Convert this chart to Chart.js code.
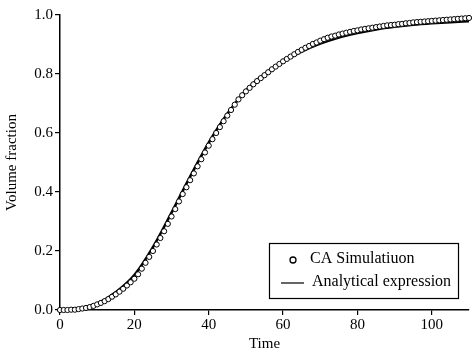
<!DOCTYPE html>
<html>
<head>
<meta charset="utf-8">
<script src="https://cdn.jsdelivr.net/npm/chart.js@4.4.1/dist/chart.umd.min.js"></script>
<style>
html,body{margin:0;padding:0;background:#fff;}
#wrap{width:474px;height:356px;}
</style>
</head>
<body>
<div id="wrap"><canvas id="c" width="474" height="356"></canvas></div>
<script>
// CA simulation points, one per time unit (t = 0..110)
const simTimes = [0,1,2,3,4,5,6,7,8,9,10,11,12,13,14,15,16,17,18,19,20,21,22,23,24,25,26,27,28,29,30,31,32,33,34,35,36,37,38,39,40,41,42,43,44,45,46,47,48,49,50,51,52,53,54,55,56,57,58,59,60,61,62,63,64,65,66,67,68,69,70,71,72,73,74,75,76,77,78,79,80,81,82,83,84,85,86,87,88,89,90,91,92,93,94,95,96,97,98,99,100,101,102,103,104,105,106,107,108,109,110];
const simValues = [0.000,0.000,0.000,0.001,0.001,0.003,0.005,0.007,0.010,0.014,0.019,0.024,0.030,0.037,0.045,0.053,0.062,0.072,0.083,0.094,0.106,0.121,0.140,0.160,0.180,0.200,0.222,0.244,0.267,0.292,0.317,0.342,0.368,0.393,0.416,0.440,0.463,0.487,0.511,0.534,0.557,0.579,0.600,0.620,0.640,0.659,0.678,0.696,0.714,0.728,0.741,0.753,0.765,0.776,0.786,0.796,0.806,0.816,0.825,0.834,0.843,0.851,0.859,0.867,0.875,0.882,0.889,0.895,0.902,0.907,0.913,0.918,0.923,0.927,0.930,0.934,0.937,0.940,0.943,0.946,0.948,0.951,0.953,0.955,0.957,0.959,0.961,0.963,0.965,0.966,0.967,0.969,0.970,0.972,0.973,0.975,0.976,0.977,0.978,0.979,0.980,0.981,0.982,0.983,0.984,0.985,0.986,0.987,0.988,0.989,0.990];
// Analytical expression, read every 5 time units
const lineTimes = [0,5,10,15,20,25,30,35,40,45,50,55,60,65,70,75,80,85,90,95,100,105,110];
const lineValues = [0.000,0.004,0.022,0.060,0.118,0.213,0.330,0.452,0.567,0.665,0.744,0.800,0.842,0.876,0.903,0.924,0.939,0.951,0.960,0.967,0.972,0.976,0.979];
const xTicks = [0,20,40,60,80,100];
const yTicks = [0.0,0.2,0.4,0.6,0.8,1.0];
const seriesNames = ['CA Simulatiuon','Analytical expression'];
const xTitle = 'Time';
const yTitle = 'Volume fraction';

const FONT = '"Liberation Serif", "Times New Roman", serif';

const legendPlugin = {
  id: 'boxLegend',
  afterDraw(chart) {
    const ctx = chart.ctx;
    const x0 = 269.5, y0 = 243.5, w = 189, h = 55;
    ctx.save();
    ctx.fillStyle = '#fff';
    ctx.fillRect(x0, y0, w, h);
    ctx.strokeStyle = '#000';
    ctx.lineWidth = 1.2;
    ctx.strokeRect(x0, y0, w, h);
    // circle marker
    ctx.beginPath();
    ctx.arc(293, 260, 3, 0, Math.PI * 2);
    ctx.lineWidth = 1.3;
    ctx.stroke();
    // line marker
    ctx.beginPath();
    ctx.moveTo(281, 283);
    ctx.lineTo(304, 283);
    ctx.lineWidth = 1.2;
    ctx.stroke();
    ctx.fillStyle = '#000';
    ctx.font = '16px ' + FONT;
    ctx.textBaseline = 'middle';
    ctx.textAlign = 'left';
    ctx.fillText(chart.data.datasets[0].label, 310, 259);
    ctx.fillText(chart.data.datasets[1].label, 312, 282);
    ctx.restore();
  }
};

new Chart(document.getElementById('c'), {
  type: 'scatter',
  data: {
    datasets: [
      {
        label: seriesNames[0],
        data: simTimes.map((t, i) => ({x: t, y: simValues[i]})),
        showLine: false,
        pointRadius: 2.6,
        pointBorderWidth: 1,
        pointBorderColor: '#000',
        pointBackgroundColor: '#fff',
        clip: false,
        order: 1
      },
      {
        label: seriesNames[1],
        data: lineTimes.map((t, i) => ({x: t, y: lineValues[i]})),
        showLine: true,
        borderColor: '#000',
        borderWidth: 2.6,
        pointRadius: 0,
        cubicInterpolationMode: 'monotone',
        fill: false,
        clip: false,
        order: 2
      }
    ]
  },
  options: {
    responsive: false,
    animation: false,
    devicePixelRatio: 1,
    layout: {padding: {top: 15, right: 4, left: 0, bottom: 0}},
    plugins: {legend: {display: false}, tooltip: {enabled: false}},
    scales: {
      x: {
        type: 'linear',
        min: 0, max: 110,
        afterBuildTicks: (s) => { s.ticks = xTicks.map(v => ({value: v})); },
        afterFit: (s) => { s.height = 46; },
        grid: {drawOnChartArea: false, drawTicks: true, tickLength: 5, color: '#000', lineWidth: 1.2},
        border: {display: true, color: '#000', width: 1.5},
        ticks: {color: '#000', font: {family: FONT, size: 15}, padding: 1, maxRotation: 0},
        title: {display: true, text: xTitle, color: '#000', font: {family: FONT, size: 15}, padding: {top: 0, bottom: 3}}
      },
      y: {
        type: 'linear',
        min: 0, max: 1,
        afterBuildTicks: (s) => { s.ticks = yTicks.map(v => ({value: v})); },
        afterFit: (s) => { s.width = 60; },
        grid: {drawOnChartArea: false, drawTicks: true, tickLength: 5, color: '#000', lineWidth: 1.2},
        border: {display: true, color: '#000', width: 1.5},
        ticks: {color: '#000', font: {family: FONT, size: 15}, padding: 2, callback: (v) => Number(v).toFixed(1)},
        title: {display: true, text: yTitle, color: '#000', font: {family: FONT, size: 15}, padding: {top: 3, bottom: 4}}
      }
    }
  },
  plugins: [legendPlugin]
});
</script>
</body>
</html>
